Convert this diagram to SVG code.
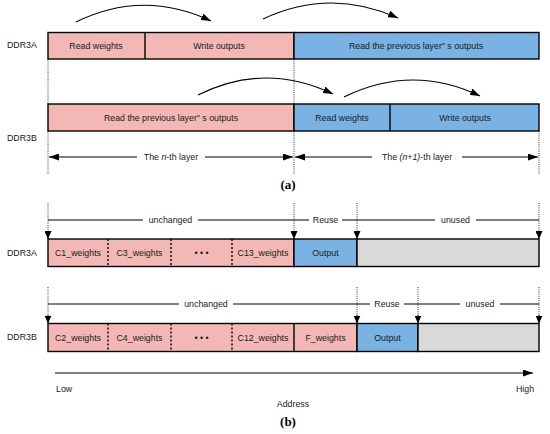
<svg xmlns="http://www.w3.org/2000/svg" width="550" height="434" viewBox="0 0 550 434">
<style>
text{font-family:"Liberation Sans",Arial,sans-serif;font-size:8.8px;fill:#1a1a1a;}
.c{text-anchor:middle;}
.pink{fill:#F3B8B6;stroke:#000;stroke-width:1.4;}
.blue{fill:#7BB2E4;stroke:#000;stroke-width:1.4;}
.grey{fill:#D9D9D9;stroke:#000;stroke-width:1.4;}
.sep{stroke:#000;stroke-width:1.4;}
.dsep{stroke:#000;stroke-width:1.4;stroke-dasharray:2,2;}
.dot{stroke:#000;stroke-width:0.8;stroke-dasharray:1,1.2;fill:none;}
.ln{stroke:#000;stroke-width:1;fill:none;}
.arc{stroke:#000;stroke-width:1.2;fill:none;marker-end:url(#ah);}
.lbl{font-family:"Liberation Serif","Times New Roman",serif;font-weight:bold;font-size:13px;fill:#000;}
</style>
<defs>
<marker id="ah" markerUnits="userSpaceOnUse" markerWidth="10" markerHeight="7" refX="10" refY="3.5" orient="auto"><path d="M0,0 L10,3.5 L0,7 z" fill="#000"/></marker>
<marker id="dh" markerUnits="userSpaceOnUse" markerWidth="8" markerHeight="7" refX="8" refY="3.5" orient="auto"><path d="M0,0 L8,3.5 L0,7 z" fill="#000"/></marker>
</defs>

<!-- (a) -->
<g id="labelsA">
<text x="7" y="48">DDR3A</text>
<text x="7" y="141">DDR3B</text>
</g>
<g id="rowA_a">
<rect class="pink" x="48" y="32.5" width="246" height="26.5"/>
<line class="sep" x1="145" y1="32.5" x2="145" y2="59"/>
<rect class="blue" x="294" y="32.5" width="245" height="26.5"/>
<text class="c" x="96" y="49">Read weights</text>
<text class="c" x="219" y="49">Write  outputs</text>
<text class="c" x="416" y="49">Read the previous layer″ s outputs</text>
</g>
<g id="rowB_a">
<rect class="pink" x="48" y="104" width="246" height="27"/>
<rect class="blue" x="294" y="104" width="245" height="27"/>
<line class="sep" x1="390" y1="104" x2="390" y2="131"/>
<text class="c" x="171" y="121">Read the previous layer″ s outputs</text>
<text class="c" x="342" y="121">Read weights</text>
<text class="c" x="465" y="121">Write outputs</text>
</g>
<g id="connectorsA">
<path class="arc" d="M76,22 Q143,-11 211,21"/>
<path class="arc" d="M263,19 Q330,-12.5 398,18"/>
<path class="arc" d="M198,95 Q265,61.5 333,94"/>
<path class="arc" d="M344,97 Q412,63.5 480,96"/>
<path class="dot" d="M48,59 V104 M48,131 V174 M294,59 V104 M294,131 V174 M539,131 V174"/>
<line class="ln" x1="137" y1="157" x2="49" y2="157" marker-end="url(#ah)"/>
<line class="ln" x1="205" y1="157" x2="293" y2="157" marker-end="url(#ah)"/>
<line class="ln" x1="372" y1="157" x2="295" y2="157" marker-end="url(#ah)"/>
<line class="ln" x1="462" y1="157" x2="538" y2="157" marker-end="url(#ah)"/>
</g>
<text class="c" x="171" y="160">The <tspan font-style="italic">n</tspan>-th layer</text>
<text class="c" x="417" y="160">The <tspan font-style="italic">(n+1)</tspan>-th layer</text>
<text class="lbl c" x="288" y="189">(a)</text>

<!-- (b) -->
<g id="memA">
<rect class="pink" x="48" y="239" width="246" height="27.5"/>
<line class="dsep" x1="108" y1="239" x2="108" y2="266.5"/>
<line class="dsep" x1="171" y1="239" x2="171" y2="266.5"/>
<line class="dsep" x1="232" y1="239" x2="232" y2="266.5"/>
<rect class="blue" x="294" y="239" width="63" height="27.5"/>
<rect class="grey" x="357" y="239" width="182" height="27.5"/>
<text class="c" x="78" y="256">C1_weights</text>
<text class="c" x="139.5" y="256">C3_weights</text>
<text class="c" x="201.5" y="256" font-size="7">• • •</text>
<text class="c" x="263" y="256">C13_weights</text>
<text class="c" x="325.5" y="256">Output</text>
</g>
<text x="7" y="256">DDR3A</text>
<g id="memB">
<rect class="pink" x="48" y="323.5" width="309" height="28"/>
<line class="dsep" x1="108" y1="323.5" x2="108" y2="351.5"/>
<line class="dsep" x1="171" y1="323.5" x2="171" y2="351.5"/>
<line class="dsep" x1="232" y1="323.5" x2="232" y2="351.5"/>
<line class="sep" x1="294" y1="323.5" x2="294" y2="351.5"/>
<rect class="blue" x="357" y="323.5" width="61" height="28"/>
<rect class="grey" x="418" y="323.5" width="121" height="28"/>
<text class="c" x="78" y="340.5">C2_weights</text>
<text class="c" x="139.5" y="340.5">C4_weights</text>
<text class="c" x="201.5" y="340.5" font-size="7">• • •</text>
<text class="c" x="263" y="340.5">C12_weights</text>
<text class="c" x="325.5" y="340.5">F_weights</text>
<text class="c" x="387.5" y="340.5">Output</text>
</g>
<text x="7" y="340">DDR3B</text>
<g id="connectorsB">
<path class="dot" d="M48,203 V232 M294,203 V232 M357,203 V232 M539,203 V232"/>
<path class="dot" d="M48,287 V316 M357,287 V316 M418,287 V316 M539,287 V316"/>
<line class="ln" x1="48" y1="231" x2="48" y2="239" marker-end="url(#dh)"/>
<line class="ln" x1="294" y1="231" x2="294" y2="239" marker-end="url(#dh)"/>
<line class="ln" x1="357" y1="231" x2="357" y2="239" marker-end="url(#dh)"/>
<line class="ln" x1="539" y1="231" x2="539" y2="239" marker-end="url(#dh)"/>
<line class="ln" x1="48" y1="315" x2="48" y2="323.5" marker-end="url(#dh)"/>
<line class="ln" x1="357" y1="315" x2="357" y2="323.5" marker-end="url(#dh)"/>
<line class="ln" x1="418" y1="315" x2="418" y2="323.5" marker-end="url(#dh)"/>
<line class="ln" x1="539" y1="315" x2="539" y2="323.5" marker-end="url(#dh)"/>
<path class="ln" d="M48,220 H143 M198,220 H294 M294,220 H309 M342,220 H357 M357,220 H435 M476,220 H539"/>
<path class="ln" d="M48,304 H179 M233,304 H357 M357,304 H370 M404,304 H418 M418,304 H460 M500,304 H539"/>
<line class="ln" x1="55" y1="373" x2="533" y2="373" marker-end="url(#ah)"/>
</g>
<text class="c" x="170.5" y="223">unchanged</text>
<text class="c" x="325.5" y="223">Reuse</text>
<text class="c" x="455.5" y="223">unused</text>
<text class="c" x="206" y="307">unchanged</text>
<text class="c" x="387" y="307">Reuse</text>
<text class="c" x="480" y="307">unused</text>
<text x="56" y="392">Low</text>
<text x="516" y="392">High</text>
<text class="c" x="293" y="407">Address</text>
<text class="lbl c" x="288" y="426">(b)</text>
</svg>
